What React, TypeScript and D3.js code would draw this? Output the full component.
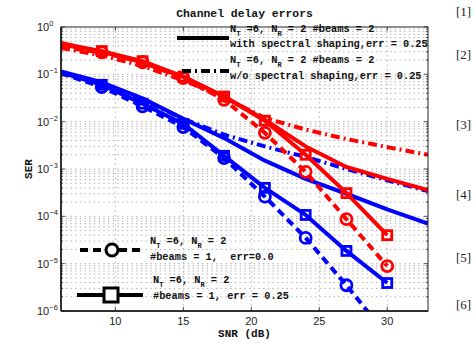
import React from "react";
import * as d3 from "d3";

const snrFull = [6, 9, 12, 15, 18, 21, 24, 27, 30, 33];
const snrMarked = [6, 9, 12, 15, 18, 21, 24, 27, 30];
const markerSnr = [9, 12, 15, 18, 21, 24, 27, 30];

const redShaping = [0.46, 0.3, 0.18, 0.088, 0.034, 0.011, 0.003, 0.0011, 6.2e-4, 3.6e-4];
const redNoShaping = [0.36, 0.25, 0.15, 0.075, 0.032, 0.012, 0.0068, 0.0043, 0.0029, 0.002];
const redCircle = [0.38, 0.29, 0.18, 0.083, 0.029, 0.0058, 8.7e-4, 8.7e-5, 8.9e-6];
const redSquare = [0.42, 0.31, 0.19, 0.09, 0.034, 0.0105, 0.002, 3.1e-4, 4.0e-5];

const blueShaping = [0.115, 0.068, 0.031, 0.0115, 0.0045, 0.0015, 6.2e-4, 3e-4, 1.4e-4, 7e-5];
const blueNoShaping = [0.11, 0.063, 0.029, 0.0115, 0.0053, 0.003, 0.0018, 0.001, 5.8e-4, 3.4e-4];
const blueCircle = [0.105, 0.054, 0.021, 0.0077, 0.0017, 2.6e-4, 3.5e-5, 3.5e-6, 3e-7];
const blueSquare = [0.11, 0.06, 0.024, 0.009, 0.0019, 4e-4, 1.07e-4, 1.86e-5, 3.9e-6];

const xTicks = [10, 15, 20, 25, 30];
const yExponents = [0, -1, -2, -3, -4, -5, -6];
const refLabels = ["[1]", "[2]", "[3]", "[4]", "[5]", "[6]"];
const refY = [16, 59, 129, 199, 262, 309];

const W = 474, H = 349;
const L = 61, R = 428, T = 27, B = 311;

const x = d3.scaleLinear().domain([6, 33]).range([L, R]);
const y = d3.scaleLog().domain([1e-6, 1]).range([B, T]);

const mono = "'Liberation Mono', 'DejaVu Sans Mono', monospace";
const sans = "'Liberation Sans', Arial, sans-serif";
const serif = "'Liberation Serif', 'Times New Roman', serif";

type Series = {
  snr: number[];
  vals: number[];
  color: string;
  dash?: string;
  marker?: "circle" | "square";
};

const series: Series[] = [
  { snr: snrFull, vals: redNoShaping, color: "#ff0000", dash: "9,4,2,4" },
  { snr: snrFull, vals: blueNoShaping, color: "#0000ff", dash: "9,4,2,4" },
  { snr: snrFull, vals: redShaping, color: "#ff0000" },
  { snr: snrFull, vals: blueShaping, color: "#0000ff" },
  { snr: snrMarked, vals: redCircle, color: "#ff0000", dash: "8,5", marker: "circle" },
  { snr: snrMarked, vals: blueCircle, color: "#0000ff", dash: "8,5", marker: "circle" },
  { snr: snrMarked, vals: redSquare, color: "#ff0000", marker: "square" },
  { snr: snrMarked, vals: blueSquare, color: "#0000ff", marker: "square" },
];

const line = d3
  .line<[number, number]>()
  .x((d) => x(d[0]))
  .y((d) => y(d[1]));

function Marker({ kind, cx, cy, color, r = 5.5, sw = 2.8 }: any) {
  if (kind === "circle") {
    return <circle cx={cx} cy={cy} r={r} fill="none" stroke={color} strokeWidth={sw} />;
  }
  return (
    <rect x={cx - r} y={cy - r} width={2 * r} height={2 * r} fill="none" stroke={color} strokeWidth={sw} />
  );
}

function NLabel({ x0, yb }: { x0: number; yb: number }) {
  return (
    <text x={x0} y={yb} fontFamily={mono} fontSize={10.3} fontWeight="bold" fill="#111">
      N
      <tspan fontSize={7} dy={4}>T</tspan>
      <tspan dy={-4}>{" =6, N"}</tspan>
      <tspan fontSize={7} dy={4}>R</tspan>
      <tspan dy={-4}>{" = 2"}</tspan>
    </text>
  );
}

export default function App() {
  const minorY: number[] = [];
  for (let e = -6; e < 0; e++) {
    for (let k = 2; k <= 9; k++) minorY.push(k * Math.pow(10, e));
  }
  const majorY = yExponents.map((e) => Math.pow(10, e));

  return (
    <svg
      width={W}
      height={H}
      viewBox={`0 0 ${W} ${H}`}
      style={{ position: "absolute", left: 0, top: 0, background: "#fff" }}
    >
      <defs>
        <clipPath id="plotClip">
          <rect x={L} y={T} width={R - L} height={B - T} />
        </clipPath>
      </defs>
      <rect x={0} y={0} width={W} height={H} fill="#fff" />

      {/* grid */}
      <g stroke="#9a9a9a" strokeWidth={0.8} strokeDasharray="1.4,3.3">
        {minorY.map((v, i) => (
          <line key={"my" + i} x1={L} x2={R} y1={y(v)} y2={y(v)} />
        ))}
        {majorY.slice(1, -1).map((v, i) => (
          <line key={"My" + i} x1={L} x2={R} y1={y(v)} y2={y(v)} />
        ))}
        {xTicks.map((t) => (
          <line key={"gx" + t} x1={x(t)} x2={x(t)} y1={T} y2={B} />
        ))}
      </g>

      {/* curves */}
      <g clipPath="url(#plotClip)">
        {series.map((s, i) => (
          <path
            key={"s" + i}
            d={line(s.snr.map((v, j) => [v, s.vals[j]] as [number, number])) || ""}
            fill="none"
            stroke={s.color}
            strokeWidth={4}
            strokeDasharray={s.dash}
            strokeLinejoin="round"
          />
        ))}
        {series.map((s, i) =>
          s.marker
            ? s.snr.map((v, j) =>
                markerSnr.includes(v) ? (
                  <Marker
                    key={"m" + i + "-" + j}
                    kind={s.marker}
                    cx={x(v)}
                    cy={y(s.vals[j])}
                    color={s.color}
                    r={s.marker === "circle" ? 5.5 : 4.5}
                  />
                ) : null
              )
            : null
        )}
      </g>

      {/* axes box */}
      <rect x={L} y={T} width={R - L} height={B - T} fill="none" stroke="#222" strokeWidth={1} />
      <line x1={L} x2={L} y1={T} y2={B} stroke="#111" strokeWidth={1.5} />
      <line x1={L} x2={R} y1={B} y2={B} stroke="#111" strokeWidth={1.5} />

      {/* ticks */}
      <g stroke="#222" strokeWidth={0.8}>
        {xTicks.map((t) => (
          <g key={"xt" + t}>
            <line x1={x(t)} x2={x(t)} y1={B} y2={B - 4} />
            <line x1={x(t)} x2={x(t)} y1={T} y2={T + 4} />
          </g>
        ))}
        {majorY.map((v, i) => (
          <g key={"yt" + i}>
            <line x1={L} x2={L + 4} y1={y(v)} y2={y(v)} />
            <line x1={R} x2={R - 4} y1={y(v)} y2={y(v)} />
          </g>
        ))}
        {minorY.map((v, i) => (
          <g key={"ymt" + i}>
            <line x1={L} x2={L + 2} y1={y(v)} y2={y(v)} />
            <line x1={R} x2={R - 2} y1={y(v)} y2={y(v)} />
          </g>
        ))}
      </g>

      {/* tick labels */}
      {xTicks.map((t) => (
        <text key={"xl" + t} x={x(t)} y={325} textAnchor="middle" fontFamily={sans} fontSize={11} fill="#222">
          {t}
        </text>
      ))}
      {yExponents.map((e) => (
        <text key={"yl" + e} x={37} y={y(Math.pow(10, e)) + 4} fontFamily={sans} fontSize={11} fill="#222">
          10
          <tspan fontSize={7.5} dy={-5}>{e === 0 ? "0" : "\u2212" + Math.abs(e)}</tspan>
        </text>
      ))}

      {/* title and axis labels */}
      <text x={(L + R) / 2} y={17} textAnchor="middle" fontFamily={mono} fontSize={11.4} fontWeight="bold" fill="#111">
        Channel delay errors
      </text>
      <text x={(L + R) / 2} y={337} textAnchor="middle" fontFamily={mono} fontSize={11} fontWeight="bold" fill="#111">
        SNR (dB)
      </text>
      <text
        transform={`translate(32,${(T + B) / 2}) rotate(-90)`}
        textAnchor="middle"
        fontFamily={mono}
        fontSize={11}
        fontWeight="bold"
        fill="#111"
      >
        SER
      </text>

      {/* top legend */}
      <line x1={177} x2={229} y1={38} y2={38} stroke="#000" strokeWidth={4} />
      <g>
        <text x={230} y={32} fontFamily={mono} fontSize={10.3} fontWeight="bold" fill="#111">
          N
          <tspan fontSize={7} dy={4}>T</tspan>
          <tspan dy={-4}>{" =6, N"}</tspan>
          <tspan fontSize={7} dy={4}>R</tspan>
          <tspan dy={-4}>{" = 2 #beams = 2"}</tspan>
        </text>
        <text x={230} y={47} fontFamily={mono} fontSize={10.3} fontWeight="bold" fill="#111">
          with spectral shaping,err = 0.25
        </text>
      </g>
      <line x1={182} x2={229} y1={71} y2={71} stroke="#000" strokeWidth={4} strokeDasharray="9,4,2,4" />
      <g>
        <text x={230} y={63} fontFamily={mono} fontSize={10.3} fontWeight="bold" fill="#111">
          N
          <tspan fontSize={7} dy={4}>T</tspan>
          <tspan dy={-4}>{" =6, N"}</tspan>
          <tspan fontSize={7} dy={4}>R</tspan>
          <tspan dy={-4}>{" = 2 #beams = 2"}</tspan>
        </text>
        <text x={230} y={79} fontFamily={mono} fontSize={10.3} fontWeight="bold" fill="#111">
          w/o spectral shaping,err = 0.25
        </text>
      </g>

      {/* bottom legend */}
      <line x1={80} x2={142} y1={250} y2={250} stroke="#000" strokeWidth={4} strokeDasharray="8,5" />
      <circle cx={112} cy={250} r={6} fill="#fff" stroke="#000" strokeWidth={3} />
      <NLabel x0={150} yb={244} />
      <text x={150} y={260} fontFamily={mono} fontSize={10.3} fontWeight="bold" fill="#111" xmlSpace="preserve">
        {"#beams = 1,  err=0.0"}
      </text>

      <line x1={77} x2={143} y1={295} y2={295} stroke="#000" strokeWidth={4} />
      <rect x={104} y={288} width={14} height={14} fill="#fff" stroke="#000" strokeWidth={3} />
      <NLabel x0={153} yb={283} />
      <text x={153} y={299} fontFamily={mono} fontSize={10.3} fontWeight="bold" fill="#111">
        #beams = 1, err = 0.25
      </text>

      {/* reference labels at right */}
      {refLabels.map((t, i) => (
        <text key={t} x={456} y={refY[i]} fontFamily={serif} fontSize={13} fill="#222">
          {t}
        </text>
      ))}
    </svg>
  );
}
